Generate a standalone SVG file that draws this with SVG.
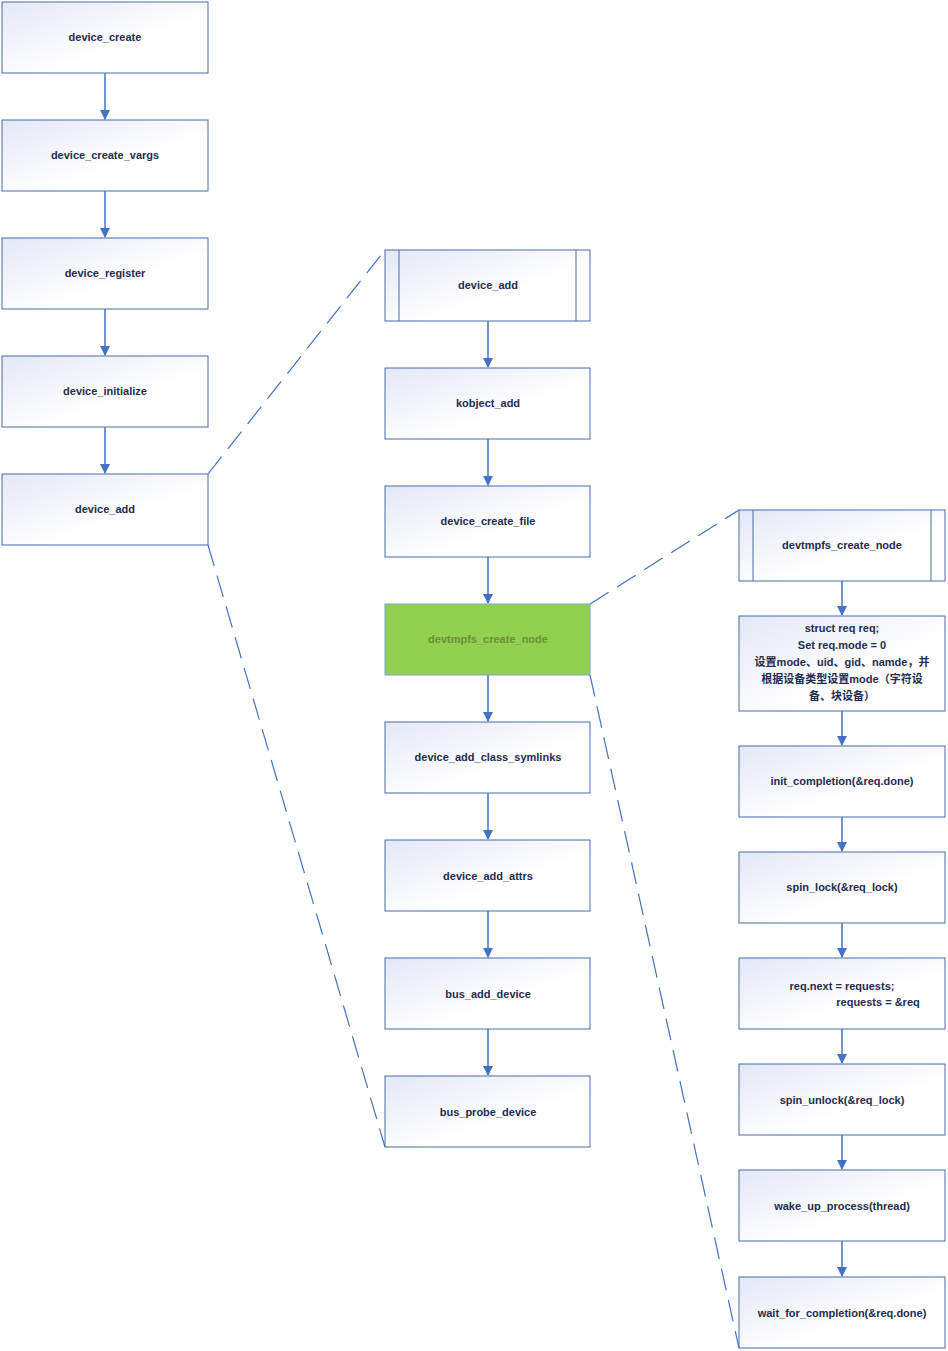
<svg xmlns="http://www.w3.org/2000/svg" width="948" height="1351" viewBox="0 0 948 1351">
<defs>
<linearGradient id="g" x1="0" y1="0" x2="1" y2="1"><stop offset="0" stop-color="#e4e8f6"/><stop offset="0.6" stop-color="#ffffff"/></linearGradient>
<marker id="a" markerWidth="10" markerHeight="10" refX="9" refY="5" orient="auto" markerUnits="userSpaceOnUse"><path d="M0,0 L10,5 L0,10 z" fill="#4472c4"/></marker>
<style>
.b{fill:url(#g);stroke:#4a6aa8;stroke-width:1}
.t{font-family:"Liberation Sans","Noto Sans CJK SC",sans-serif;font-size:11px;font-weight:bold;fill:#1f2d4f;text-anchor:middle}
.c{stroke:#4472c4;stroke-width:1.5;fill:none;marker-end:url(#a)}
.d{stroke:#4472c4;stroke-width:1.2;fill:none;stroke-dasharray:22,10}
.s{stroke:#4a6aa8;stroke-width:1}
</style>
</defs>
<rect width="948" height="1351" fill="#fff"/>
<g id="n1"><rect class="b" x="2" y="2" width="206" height="71"/><text class="t" x="105" y="41">device_create</text></g>
<g id="n2"><rect class="b" x="2" y="120" width="206" height="71"/><text class="t" x="105" y="159">device_create_vargs</text></g>
<g id="n3"><rect class="b" x="2" y="238" width="206" height="71"/><text class="t" x="105" y="277">device_register</text></g>
<g id="n4"><rect class="b" x="2" y="356" width="206" height="71"/><text class="t" x="105" y="395">device_initialize</text></g>
<g id="n5"><rect class="b" x="2" y="474" width="206" height="71"/><text class="t" x="105" y="513">device_add</text></g>
<g id="m1"><rect class="b" x="385" y="250" width="205" height="71"/><line class="s" x1="399" y1="250" x2="399" y2="321"/><line class="s" x1="576" y1="250" x2="576" y2="321"/><text class="t" x="488" y="289">device_add</text></g>
<g id="m2"><rect class="b" x="385" y="368" width="205" height="71"/><text class="t" x="488" y="407">kobject_add</text></g>
<g id="m3"><rect class="b" x="385" y="486" width="205" height="71"/><text class="t" x="488" y="525">device_create_file</text></g>
<g id="m4"><rect x="385" y="604" width="205" height="71" fill="#92d050" stroke="#7aa6d0"/><text class="t" x="488" y="643" style="fill:#6b8f3a">devtmpfs_create_node</text></g>
<g id="m5"><rect class="b" x="385" y="722" width="205" height="71"/><text class="t" x="488" y="761">device_add_class_symlinks</text></g>
<g id="m6"><rect class="b" x="385" y="840" width="205" height="71"/><text class="t" x="488" y="880">device_add_attrs</text></g>
<g id="m7"><rect class="b" x="385" y="958" width="205" height="71"/><text class="t" x="488" y="998">bus_add_device</text></g>
<g id="m8"><rect class="b" x="385" y="1076" width="205" height="71"/><text class="t" x="488" y="1116">bus_probe_device</text></g>
<g id="r1"><rect class="b" x="739" y="510" width="206" height="71"/><line class="s" x1="753" y1="510" x2="753" y2="581"/><line class="s" x1="931" y1="510" x2="931" y2="581"/><text class="t" x="842" y="549">devtmpfs_create_node</text></g>
<g id="r2"><rect class="b" x="739" y="616" width="206" height="95"/><text class="t" x="842" y="632">struct req req;</text><text class="t" x="842" y="649">Set req.mode = 0</text><text class="t" x="842" y="666">设置mode、uid、gid、namde，并</text><text class="t" x="842" y="683">根据设备类型设置mode（字符设</text><text class="t" x="842" y="700">备、块设备）</text></g>
<g id="r3"><rect class="b" x="739" y="746" width="206" height="71"/><text class="t" x="842" y="785">init_completion(&amp;req.done)</text></g>
<g id="r4"><rect class="b" x="739" y="852" width="206" height="71"/><text class="t" x="842" y="891">spin_lock(&amp;req_lock)</text></g>
<g id="r5"><rect class="b" x="739" y="958" width="206" height="71"/><text class="t" x="842" y="990">req.next = requests;</text><text class="t" x="878" y="1006">requests = &amp;req</text></g>
<g id="r6"><rect class="b" x="739" y="1064" width="206" height="71"/><text class="t" x="842" y="1104">spin_unlock(&amp;req_lock)</text></g>
<g id="r7"><rect class="b" x="739" y="1170" width="206" height="71"/><text class="t" x="842" y="1210">wake_up_process(thread)</text></g>
<g id="r8"><rect class="b" x="739" y="1277" width="206" height="71"/><text class="t" x="842" y="1317">wait_for_completion(&amp;req.done)</text></g>
<g id="connectors">
<line class="c" x1="105" y1="73" x2="105" y2="119"/>
<line class="c" x1="105" y1="191" x2="105" y2="237"/>
<line class="c" x1="105" y1="309" x2="105" y2="355"/>
<line class="c" x1="105" y1="427" x2="105" y2="473"/>
<line class="c" x1="488" y1="321" x2="488" y2="367"/>
<line class="c" x1="488" y1="439" x2="488" y2="485"/>
<line class="c" x1="488" y1="557" x2="488" y2="603"/>
<line class="c" x1="488" y1="675" x2="488" y2="721"/>
<line class="c" x1="488" y1="793" x2="488" y2="839"/>
<line class="c" x1="488" y1="911" x2="488" y2="957"/>
<line class="c" x1="488" y1="1029" x2="488" y2="1075"/>
<line class="c" x1="842" y1="581" x2="842" y2="615"/>
<line class="c" x1="842" y1="711" x2="842" y2="745"/>
<line class="c" x1="842" y1="817" x2="842" y2="851"/>
<line class="c" x1="842" y1="923" x2="842" y2="957"/>
<line class="c" x1="842" y1="1029" x2="842" y2="1063"/>
<line class="c" x1="842" y1="1135" x2="842" y2="1169"/>
<line class="c" x1="842" y1="1241" x2="842" y2="1276"/>
<line class="d" x1="208" y1="474" x2="385" y2="250"/>
<line class="d" x1="208" y1="545" x2="385" y2="1147"/>
<line class="d" x1="590" y1="604" x2="739" y2="510"/>
<line class="d" x1="590" y1="675" x2="739" y2="1348"/>
</g>
</svg>
